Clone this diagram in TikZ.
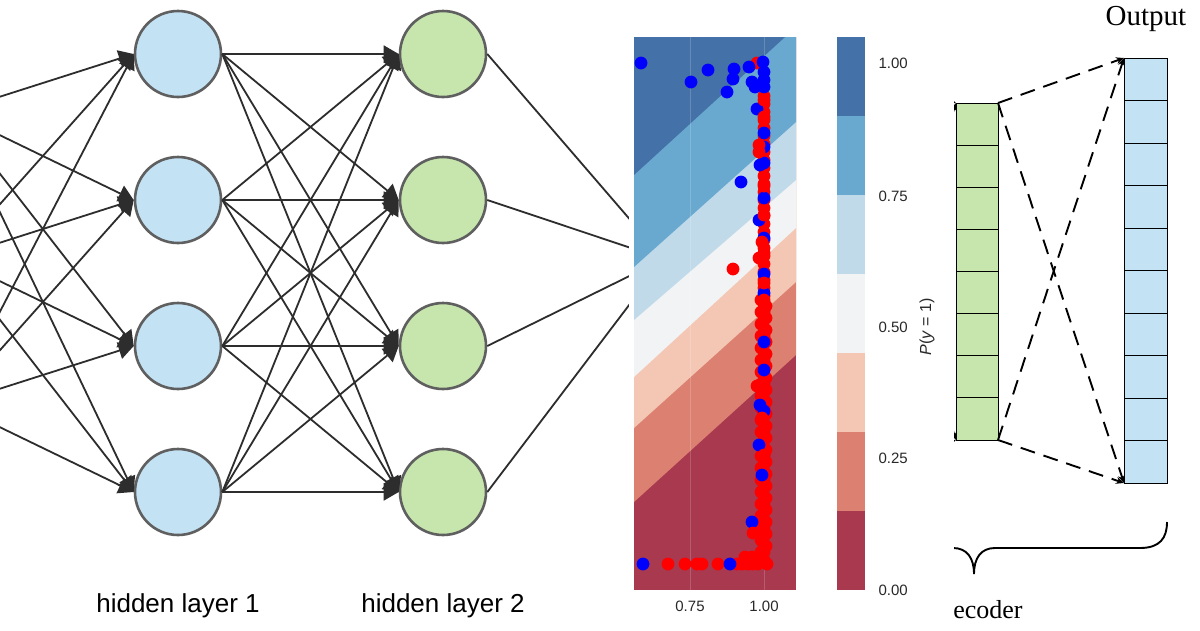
\documentclass[tikz,border=0pt]{standalone}
\usepackage{fontspec}
\setmainfont{Liberation Sans}
\newfontfamily\serifx{Liberation Serif}
\usetikzlibrary{arrows.meta}
\definecolor{nblue}{RGB}{195,227,245}
\definecolor{ngreen}{RGB}{199,230,174}
\definecolor{nstroke}{RGB}{95,95,95}
\definecolor{edgec}{RGB}{45,45,45}
\definecolor{cA}{RGB}{68,113,167}
\definecolor{cB}{RGB}{106,169,207}
\definecolor{cC}{RGB}{192,218,234}
\definecolor{cD}{RGB}{241,243,245}
\definecolor{cE}{RGB}{244,199,180}
\definecolor{cF}{RGB}{220,129,114}
\definecolor{cG}{RGB}{168,57,79}
\definecolor{dotblue}{RGB}{0,0,255}
\definecolor{dotred}{RGB}{255,0,0}
\definecolor{ticktext}{RGB}{40,40,40}
\begin{document}
\begin{tikzpicture}[x=1pt,y=-1pt,
  neuron/.style={circle, draw=nstroke, line width=2.6pt, minimum size=86pt, inner sep=0pt},
  conn/.style={draw=edgec, line width=1.8pt, -{Triangle[length=15pt,width=17pt]}},
  plainconn/.style={draw=edgec, line width=1.8pt},
  layerlbl/.style={font=\fontsize{26}{31}\selectfont, anchor=base, text=black},
  column/.style={draw=black, line width=1pt, inner sep=0pt, outer sep=0pt},
  sep/.style={draw=black, line width=1pt},
  dasharrow/.style={draw=black, line width=1.9pt, dash pattern=on 15pt off 9pt, -{Stealth[length=8pt,width=7pt]}},
  bracestyle/.style={draw=black, line width=1.9pt},
  serlbl/.style={font=\serifx\fontsize{29}{33}\selectfont, text=black},
  ticklbl/.style={font=\fontsize{15}{18}\selectfont, text=ticktext},
  bdot/.style={fill=dotblue},
  rdot/.style={fill=dotred}
]
\useasboundingbox (0,0) rectangle (1200,630);
\fill[white] (0,0) rectangle (1200,630);

% ---------------- autoencoder (right) ----------------
\node[column, fill=ngreen, minimum width=42pt, minimum height=337pt] (code) at (977,271.5) {};
\foreach \k in {1,...,7}
  \draw[sep] ([yshift=-\k*42.125pt]code.north west) -- ([yshift=-\k*42.125pt]code.north east);
\node[column, fill=nblue, minimum width=43pt, minimum height=425pt] (out) at (1145.5,270.5) {};
\foreach \k in {1,...,9}
  \draw[sep] ([yshift=-\k*42.5pt]out.north west) -- ([yshift=-\k*42.5pt]out.north east);
\draw[dasharrow] (code.north east) -- (out.north west);
\draw[dasharrow] (code.north east) -- (out.south west);
\draw[dasharrow] (code.south east) -- (out.north west);
\draw[dasharrow] (code.south east) -- (out.south west);
\coordinate (e1) at (830,58);
\coordinate (e2) at (830,483);
\draw[dasharrow] (e1) -- (code.north west);
\draw[dasharrow] (e2) -- (code.north west);
\draw[dasharrow] (e1) -- (code.south west);
\draw[dasharrow] (e2) -- (code.south west);
\node[serlbl, anchor=base] (outlbl) at (1146,25) {Output};
\draw[bracestyle] (1167,522) .. controls (1167,538) and (1160,548) .. (1140,548) -- (995,548)
  .. controls (981,548) and (974,558) .. (974,574)
  .. controls (974,558) and (967,548) .. (953,548) -- (806,548)
  .. controls (786,548) and (779,538) .. (779,522);
\node[serlbl, font=\serifx\fontsize{26}{30}\selectfont, anchor=base west] (dec) at (931,618) {Decoder};

% ---------------- neural network (left) ----------------
\coordinate (i1) at (-48,112);
\coordinate (i2) at (-48,258);
\coordinate (i3) at (-48,404);
\coordinate (o) at (664,259);
\foreach \k/\yy in {1/54,2/200,3/346,4/492} {
  \node[neuron, fill=nblue] (a\k) at (178,\yy) {};
  \node[neuron, fill=ngreen] (b\k) at (443,\yy) {};
}
\foreach \s in {1,2,3} \foreach \t in {1,...,4}
  \draw[conn] (i\s) -- (a\t.west);
\foreach \s in {1,...,4} \foreach \t in {1,...,4}
  \draw[conn] (a\s.east) -- (b\t.west);
\foreach \s in {1,...,4}
  \draw[plainconn] (b\s.east) -- (o);
\node[layerlbl] (l1) at (178,612) {hidden layer 1};
\node[layerlbl] (l2) at (443,612) {hidden layer 2};

% ---------------- plot panel ----------------
\fill[white] (629,0) rectangle (954,630);
\begin{scope}
\clip (634,37) rectangle (796,590);
\fill[cG] (634,37) rectangle (796,590);
\fill[cF] (634,502) -- (796,355) -- (796,0) -- (634,0) -- cycle;
\fill[cE] (634,428) -- (796,282) -- (796,0) -- (634,0) -- cycle;
\fill[cD] (634,377) -- (796,228) -- (796,0) -- (634,0) -- cycle;
\fill[cC] (634,320) -- (796,180) -- (796,0) -- (634,0) -- cycle;
\fill[cB] (634,267) -- (796,122) -- (796,0) -- (634,0) -- cycle;
\fill[cA] (634,175) -- (796,27) -- (796,0) -- (634,0) -- cycle;
\draw[white, opacity=0.18, line width=1pt] (690,37) -- (690,590);
\draw[white, opacity=0.18, line width=1pt] (764,37) -- (764,590);
% red column and bottom row
\fill[rdot] (757,63) circle (6.4);
\foreach \yy in {96,104,...,560} \fill[rdot] (764,\yy) circle (6.4);
\foreach \yy in {300,312,...,556} \fill[rdot] (761,\yy) circle (6.4);
\foreach \yy in {306,318,...,556} \fill[rdot] (766,\yy) circle (6.4);
\foreach \xx in {668,685,697,702,718,737,742,748,753,758,767} \fill[rdot] (\xx,564) circle (6.4);
\foreach \xx in {745,752,758} \fill[rdot] (\xx,557) circle (6.4);
% blue points
\foreach \xx/\yy in {641/63,708/70,691/82,734/69,733/79,727/92,749/67,752/82,755/87,763/62,764/72,764/80,764/87,
  757/109,764/133,764/147,760/165,764/163,741/182,764/198,759/220,764/238,764/274,764/293,
  764/342,764/370,760/405,764/411,759/445,762/475,752/522,643/564,730/564}
  \fill[bdot] (\xx,\yy) circle (6.4);
% red points on top
\foreach \xx/\yy in {764/100,764/117,759/145,759/152,764/186,764/215,733/269,762/242,764/253,759/258,
  764/283,764/300,764/310,757/386,762/418,764/455,763/490,753/533,764/545}
  \fill[rdot] (\xx,\yy) circle (6.4);
\end{scope}
\node[ticklbl] (t1) at (690,606) {0.75};
\node[ticklbl] (t2) at (764,606) {1.00};

% colorbar
\fill[cG] (837,511) rectangle (865,590);
\fill[cF] (837,432) rectangle (865,511);
\fill[cE] (837,353) rectangle (865,432);
\fill[cD] (837,274) rectangle (865,353);
\fill[cC] (837,195) rectangle (865,274);
\fill[cB] (837,116) rectangle (865,195);
\fill[cA] (837,37) rectangle (865,116);
\foreach \v/\yy in {1.00/63,0.75/196,0.50/327,0.25/458,0.00/590}
  \node[ticklbl, anchor=west] at (875,\yy) {\v};
\node[ticklbl, font=\fontsize{16}{19}\selectfont, rotate=90] (plbl) at (927,327) {\textit{P}(\textit{y} = 1)};
\end{tikzpicture}
\end{document}
